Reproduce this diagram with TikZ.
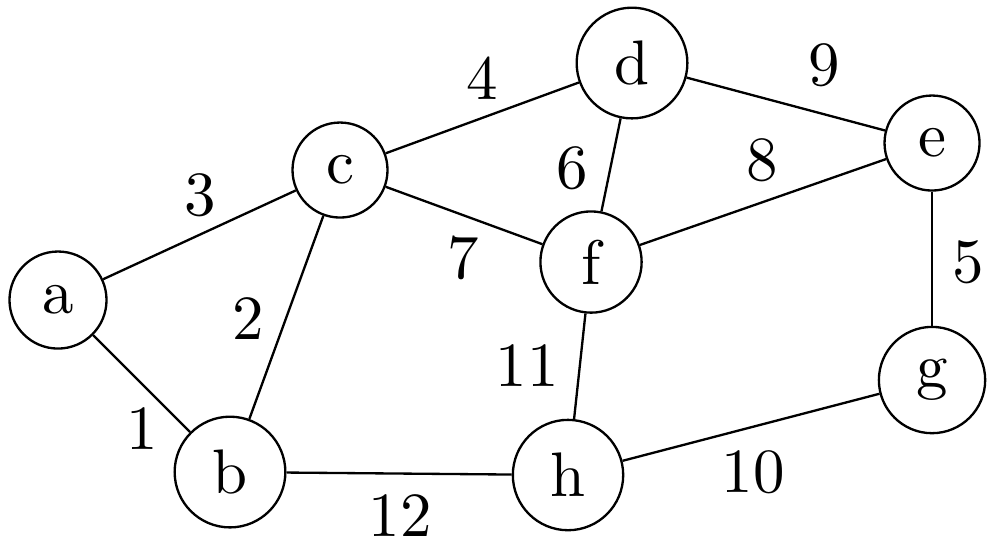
\documentclass[tikz,border=0pt]{standalone}
\begin{document}
\begin{tikzpicture}[x=0.17241pt,y=-0.17241pt,
  font=\fontsize{10.85}{13}\selectfont,
  vert/.style={circle,draw,line width=0.4pt},
  wlab/.style={inner sep=0pt}]
\useasboundingbox (0,0) rectangle (1000,547);
\node[vert] (a) at (58,300) {a};
\node[vert] (b) at (230,472) {b};
\node[vert] (c) at (340,170) {c};
\node[vert] (d) at (632,63) {d};
\node[vert] (e) at (932,143) {e};
\node[vert] (f) at (591,262) {f};
\node[vert] (g) at (932,380) {g};
\node[vert] (h) at (568,475) {h};
\draw (a) -- (c);
\draw (a) -- (b);
\draw (b) -- (c);
\draw (c) -- (d);
\draw (c) -- (f);
\draw (d) -- (f);
\draw (d) -- (e);
\draw (f) -- (e);
\draw (e) -- (g);
\draw (f) -- (h);
\draw (b) -- (h);
\draw (h) -- (g);
\node[wlab] (l3) at (200,195) {3};
\node[wlab] (l4) at (482,78) {4};
\node[wlab] (l9) at (824,65) {9};
\node[wlab] (l6) at (572,168) {6};
\node[wlab] (l8) at (762,160) {8};
\node[wlab] (l7) at (463,258) {7};
\node[wlab] (l5) at (968,262) {5};
\node[wlab] (l2) at (248,318) {2};
\node[wlab] (l11) at (527,365) {11};
\node[wlab] (l1) at (142,428) {1};
\node[wlab] (l12) at (400,515) {12};
\node[wlab] (l10) at (753,472) {10};
\end{tikzpicture}
\end{document}
